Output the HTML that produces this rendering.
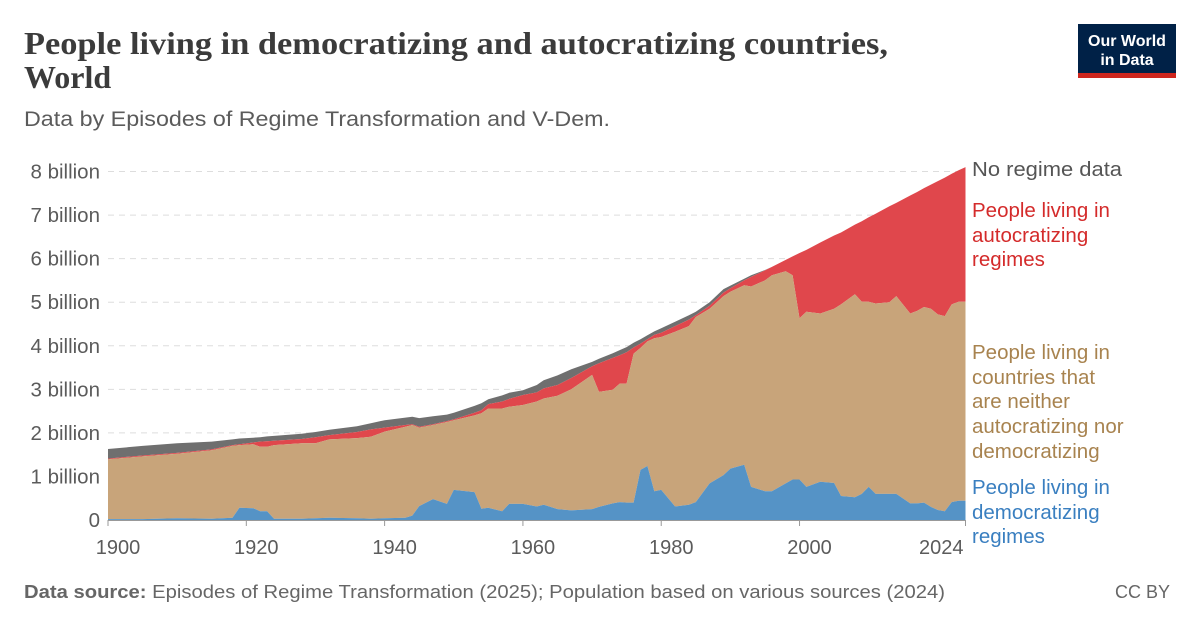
<!DOCTYPE html>
<html><head><meta charset="utf-8">
<style>
body{margin:0;background:#fff;width:1200px;height:627px;overflow:hidden;font-family:"Liberation Sans",sans-serif;}
svg text{font-family:"Liberation Sans",sans-serif;}
</style></head>
<body>
<svg id="chart" width="1200" height="627" viewBox="0 0 1200 627">
<text x="24" y="54" font-weight="bold" font-size="32" fill="#3b3b3b" textLength="864" lengthAdjust="spacingAndGlyphs" style="font-family:'Liberation Serif',serif">People living in democratizing and autocratizing countries,</text>
<text x="24" y="88" font-weight="bold" font-size="32" fill="#3b3b3b" style="font-family:'Liberation Serif',serif">World</text>
<text x="24" y="126" font-size="21" fill="#5b5b5b" textLength="586" lengthAdjust="spacingAndGlyphs">Data by Episodes of Regime Transformation and V-Dem.</text>
<g>
<rect x="1078" y="24" width="98" height="50" fill="#002147"/>
<rect x="1078" y="73" width="98" height="5" fill="#ce261e"/>
<text x="1127" y="46" font-size="16" font-weight="bold" fill="#fff" text-anchor="middle">Our World</text>
<text x="1127" y="65" font-size="16" font-weight="bold" fill="#fff" text-anchor="middle">in Data</text>
</g>
<g id="grid"></g>
<g id="areas"></g>
<g id="axes"></g>
<g font-size="20.5">
<text x="972" y="176" fill="#555" textLength="150" lengthAdjust="spacingAndGlyphs">No regime data</text>
<text fill="#d42b2b"><tspan x="972" y="217">People living in</tspan><tspan x="972" y="242">autocratizing</tspan><tspan x="972" y="266">regimes</tspan></text>
<text fill="#a8834f"><tspan x="972" y="359">People living in</tspan><tspan x="972" y="384">countries that</tspan><tspan x="972" y="408">are neither</tspan><tspan x="972" y="433">autocratizing nor</tspan><tspan x="972" y="458">democratizing</tspan></text>
<text fill="#3a7fc0"><tspan x="972" y="494">People living in</tspan><tspan x="972" y="519">democratizing</tspan><tspan x="972" y="543">regimes</tspan></text>
</g>
<text x="24" y="598" font-size="18" fill="#666" textLength="921" lengthAdjust="spacingAndGlyphs"><tspan font-weight="bold">Data source:</tspan> Episodes of Regime Transformation (2025); Population based on various sources (2024)</text>
<text x="1170" y="598" font-size="18" fill="#666" text-anchor="end">CC BY</text>
</svg>
<script>
const years=[1900,1905,1910,1915,1918,1919,1921,1922,1923,1924,1928,1930,1932,1936,1938,1940,1943,1944,1945,1947,1949,1950,1953,1954,1955,1957,1958,1960,1962,1963,1965,1967,1970,1971,1973,1974,1975,1976,1977,1978,1979,1980,1982,1984,1985,1987,1989,1990,1992,1993,1995,1996,1998,1999,2000,2001,2003,2005,2006,2008,2009,2010,2011,2013,2014,2016,2017,2018,2019,2020,2021,2022,2023,2024];
const democratizing=[.02,.02,.04,.03,.05,.28,.27,.20,.20,.03,.03,.04,.05,.04,.03,.04,.05,.10,.32,.48,.37,.69,.64,.26,.28,.20,.37,.37,.31,.35,.25,.22,.25,.30,.38,.41,.40,.40,1.15,1.24,.66,.69,.31,.35,.41,.84,1.03,1.18,1.27,.76,.66,.66,.84,.93,.93,.76,.88,.85,.55,.52,.60,.76,.60,.60,.60,.38,.38,.40,.30,.23,.20,.41,.44,.44];
const neither=[1.37,1.44,1.48,1.57,1.65,1.44,1.47,1.48,1.48,1.69,1.73,1.72,1.80,1.84,1.88,1.99,2.09,2.08,1.80,1.70,1.88,1.60,1.76,2.19,2.28,2.36,2.23,2.27,2.41,2.44,2.60,2.78,3.08,2.64,2.61,2.72,2.73,3.42,2.80,2.86,3.51,3.51,4.01,4.10,4.25,4.01,4.11,4.06,4.12,4.60,4.84,4.96,4.87,4.69,3.70,4.02,3.86,4.00,4.40,4.66,4.41,4.25,4.37,4.40,4.54,4.36,4.42,4.49,4.55,4.49,4.48,4.54,4.57,4.57];
const autocratizing=[.02,.02,.02,.02,.02,.02,.04,.12,.13,.10,.10,.14,.10,.14,.17,.09,.04,.02,.02,.02,.02,.02,.06,.07,.10,.16,.18,.23,.21,.23,.25,.26,.20,.66,.73,.65,.72,.14,.10,.05,.08,.10,.13,.15,.04,.07,.08,.08,.11,.22,.23,.19,.26,.43,1.50,1.42,1.63,1.68,1.65,1.60,1.85,1.94,2.06,2.20,2.14,2.71,2.73,2.73,2.85,3.06,3.18,3.00,3.02,3.09];
const totalPopulation=[1.63,1.70,1.76,1.80,1.85,1.87,1.89,1.90,1.92,1.93,1.98,2.02,2.07,2.15,2.22,2.29,2.35,2.37,2.34,2.38,2.42,2.46,2.62,2.68,2.77,2.86,2.92,2.98,3.10,3.21,3.32,3.46,3.63,3.70,3.83,3.90,3.97,4.07,4.15,4.24,4.33,4.40,4.55,4.70,4.78,5.00,5.30,5.38,5.54,5.62,5.74,5.81,5.97,6.05,6.13,6.20,6.37,6.53,6.60,6.78,6.86,6.95,7.03,7.20,7.28,7.45,7.53,7.62,7.70,7.78,7.86,7.95,8.03,8.10];
const yTicks=[0,1,2,3,4,5,6,7,8];
const yTickLabels=["0","1 billion","2 billion","3 billion","4 billion","5 billion","6 billion","7 billion","8 billion"];
const xTicks=[1900,1920,1940,1960,1980,2000,2024];

const NS="http://www.w3.org/2000/svg";
const X=y=>108+(y-1900)*(857.5/124);
const Y=v=>520-v*(348.5/8);
function mk(tag,attrs,parent){const e=document.createElementNS(NS,tag);for(const k in attrs)e.setAttribute(k,attrs[k]);parent.appendChild(e);return e;}
const grid=document.getElementById('grid'),areas=document.getElementById('areas'),axes=document.getElementById('axes');
yTicks.forEach((t,i)=>{
  if(t>0){const l=mk('line',{x1:108,x2:965,y1:Y(t),y2:Y(t),stroke:'#ddd','stroke-dasharray':'6,5'},grid);
  
  }
  const tx=mk('text',{x:100,y:Y(t)+7,'text-anchor':'end','font-size':20.5,fill:'#5b5b5b'},axes);
  tx.textContent=yTickLabels[i];
  
  
});
const s1=democratizing.map((d,i)=>d);
const s2=s1.map((d,i)=>d+neither[i]);
const s3=s2.map((d,i)=>d+autocratizing[i]);
const s4=totalPopulation.slice();
function area(lo,hi,color,name){
  let d='M'+years.map((yr,i)=>X(yr).toFixed(1)+','+Y(hi[i]).toFixed(1)).join('L');
  for(let i=years.length-1;i>=0;i--)d+='L'+X(years[i]).toFixed(1)+','+Y(lo?lo[i]:0).toFixed(1);
  const p=mk('path',{d:d+'Z',fill:color},areas);
  
  
}
area(s3,s4,'#6f6f6f','area-no-regime-data');
area(s2,s3,'#e0474c','area-autocratizing');
area(s1,s2,'#c8a47a','area-neither');
area(null,s1,'#5593c6','area-democratizing');
mk('line',{x1:108,x2:965,y1:520.5,y2:520.5,stroke:'#999'},axes);
xTicks.forEach(t=>{
  mk('line',{x1:X(t),x2:X(t),y1:520,y2:526,stroke:'#999'},axes);
  const tx=mk('text',{x:X(t)+10,y:554,'text-anchor':t===2024?'end':'middle','font-size':20,fill:'#5b5b5b'},axes);
  if(t===2024)tx.setAttribute('x',X(t)-2);
  tx.textContent=t;
  
  
});
</script>
</body></html>
